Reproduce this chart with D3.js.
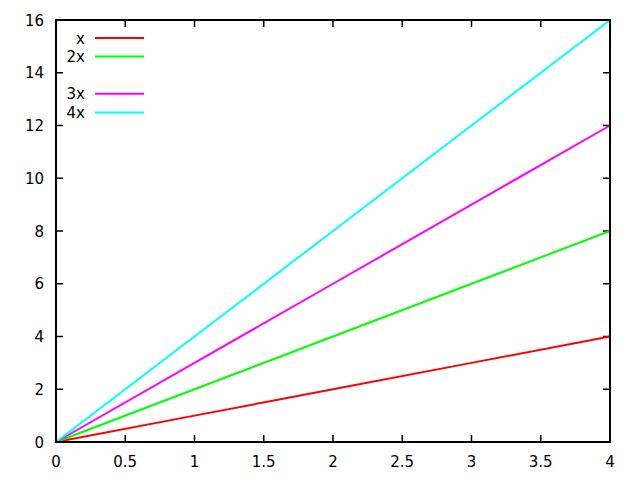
<!DOCTYPE html>
<html>
<head>
<meta charset="utf-8">
<script src="https://cdn.jsdelivr.net/npm/d3@7"></script>
<style>
body { margin: 0; background: #ffffff; }
text { font-family: "DejaVu Sans", sans-serif; font-size: 15px; fill: #000000; }
</style>
</head>
<body>
<script>
var xValues = [0, 1, 2, 3, 4];
var seriesNames = ["x", "2x", "", "3x", "4x"];
var seriesColors = ["#ff0000", "#00ff00", "none", "#ff00ff", "#00ffff"];
var seriesValues = [
  [0, 1, 2, 3, 4],
  [0, 2, 4, 6, 8],
  null,
  [0, 3, 6, 9, 12],
  [0, 4, 8, 12, 16]
];
var xTicks = [0, 0.5, 1, 1.5, 2, 2.5, 3, 3.5, 4];
var yTicks = [0, 2, 4, 6, 8, 10, 12, 14, 16];

var width = 640;
var height = 480;
var plotLeft = 56, plotRight = 610, plotTop = 20, plotBottom = 442;

var svg = d3.select("body")
  .append("svg")
  .attr("width", width)
  .attr("height", height);

var x = d3.scaleLinear().domain([0, 4]).range([plotLeft, plotRight]);
var y = d3.scaleLinear().domain([0, 16]).range([plotBottom, plotTop]);

// tick marks, inward on all four sides
var tickg = svg.append("g").attr("stroke", "#000000").attr("stroke-width", 1.5);
xTicks.forEach(function (t) {
  tickg.append("line")
    .attr("x1", x(t)).attr("x2", x(t))
    .attr("y1", plotBottom).attr("y2", plotBottom - 7);
  tickg.append("line")
    .attr("x1", x(t)).attr("x2", x(t))
    .attr("y1", plotTop).attr("y2", plotTop + 7);
});
yTicks.forEach(function (t) {
  tickg.append("line")
    .attr("x1", plotLeft).attr("x2", plotLeft + 7)
    .attr("y1", y(t)).attr("y2", y(t));
  tickg.append("line")
    .attr("x1", plotRight).attr("x2", plotRight - 7)
    .attr("y1", y(t)).attr("y2", y(t));
});

// tick labels
svg.append("g").selectAll("text")
  .data(xTicks)
  .enter().append("text")
  .attr("x", function (d) { return x(d); })
  .attr("y", plotBottom + 25)
  .attr("text-anchor", "middle")
  .text(function (d) { return d; });
svg.append("g").selectAll("text")
  .data(yTicks)
  .enter().append("text")
  .attr("x", plotLeft - 12)
  .attr("y", function (d) { return y(d) + 5.5; })
  .attr("text-anchor", "end")
  .text(function (d) { return d; });

// lines
var line = d3.line()
  .x(function (d, i) { return x(xValues[i]); })
  .y(function (d) { return y(d); });
for (var i = 0; i < seriesValues.length; i ++) {
  if (!seriesValues[i]) continue;
  svg.append("path")
    .attr("d", line(seriesValues[i]))
    .attr("fill", "none")
    .attr("stroke", seriesColors[i])
    .attr("stroke-width", 2);
}

// frame
svg.append("rect")
  .attr("x", plotLeft).attr("y", plotTop)
  .attr("width", plotRight - plotLeft).attr("height", plotBottom - plotTop)
  .attr("fill", "none")
  .attr("stroke", "#000000")
  .attr("stroke-width", 2);

// legend
var legend = svg.append("g");
for (var i = 0; i < seriesNames.length; i ++) {
  if (!seriesNames[i]) continue;
  var ly = 38 + i * 18.6;
  legend.append("text")
    .attr("x", 85)
    .attr("y", ly + 5.5)
    .attr("text-anchor", "end")
    .text(seriesNames[i]);
  legend.append("line")
    .attr("x1", 95).attr("x2", 144)
    .attr("y1", ly).attr("y2", ly)
    .attr("stroke", seriesColors[i])
    .attr("stroke-width", 2);
}
</script>
</body>
</html>
